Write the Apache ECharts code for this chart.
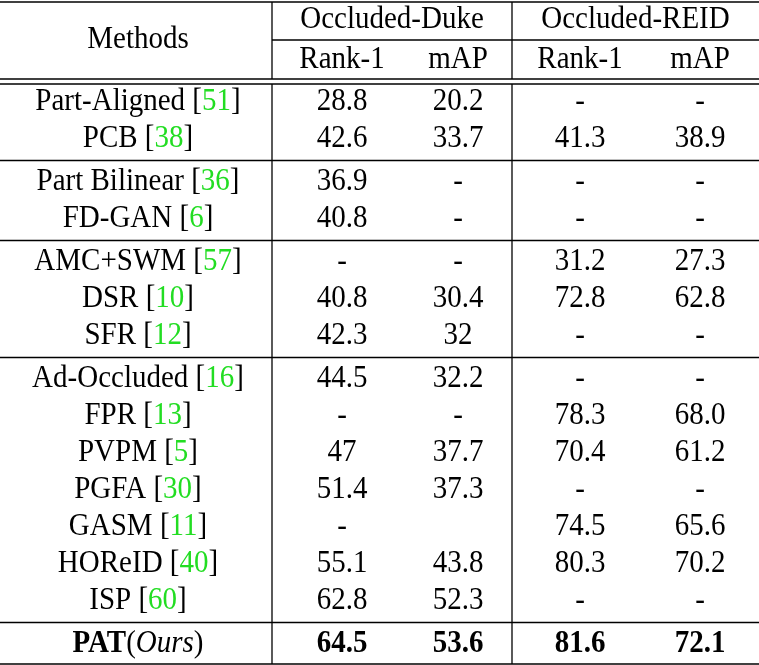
<!DOCTYPE html>
<html>
<head>
<meta charset="utf-8">
<script src="https://cdn.jsdelivr.net/npm/echarts@6/dist/echarts.min.js"></script>
<style>
  html, body { margin: 0; padding: 0; background: #fff; }
  #chart { width: 759px; height: 665px; }
</style>
</head>
<body>
<div id="chart"></div>
<script>
const methods = ['Part-Aligned', 'PCB', 'Part Bilinear', 'FD-GAN', 'AMC+SWM', 'DSR', 'SFR',
    'Ad-Occluded', 'FPR', 'PVPM', 'PGFA', 'GASM', 'HOReID', 'ISP', 'PAT'];
const refs = ['51', '38', '36', '6', '57', '10', '12', '16', '13', '5', '30', '11', '40', '60', ''];
const dukeRank1 = ['28.8', '42.6', '36.9', '40.8', '-', '40.8', '42.3', '44.5', '-', '47', '51.4', '-', '55.1', '62.8', '64.5'];
const dukeMAP = ['20.2', '33.7', '-', '-', '-', '30.4', '32', '32.2', '-', '37.7', '37.3', '', '43.8', '52.3', '53.6'];
const reidRank1 = ['-', '41.3', '-', '-', '31.2', '72.8', '-', '-', '78.3', '70.4', '-', '74.5', '80.3', '-', '81.6'];
const reidMAP = ['-', '38.9', '-', '-', '27.3', '62.8', '-', '-', '68.0', '61.2', '-', '65.6', '70.2', '-', '72.1'];
const groupEnds = [1, 3, 6, 13]; // separator after these rows

const chart = echarts.init(document.getElementById('chart'));
const font = '"Liberation Serif", "DejaVu Serif", serif';
const fs = 29;
const colX = [138, 342, 458, 580, 700];
const vLines = [272, 512];
const rowPitch = 37, gap = 6, firstRow = 102;

function rowY(i) {
    let g = groupEnds.filter(e => e < i).length;
    return firstRow + i * rowPitch + g * gap;
}

const elements = [];
function text(x, y, str) {
    elements.push({
        type: 'text', x: x, y: y, scaleY: 1.1,
        style: {
            text: str, rich: rich, font: fs + 'px ' + font,
            fill: '#000', align: 'center', verticalAlign: 'middle'
        }
    });
}
function hline(x1, x2, y) {
    elements.push({ type: 'line', shape: { x1: x1, y1: y, x2: x2, y2: y }, style: { stroke: '#000', lineWidth: 1.3 } });
}
function vline(x, y1, y2) {
    elements.push({ type: 'line', shape: { x1: x, y1: y1, x2: x, y2: y2 }, style: { stroke: '#000', lineWidth: 1.3 } });
}

const rich = {
    n: { font: fs + 'px ' + font, fill: '#000' },
    g: { font: fs + 'px ' + font, fill: '#22dd22' },
    b: { font: 'bold ' + fs + 'px ' + font, fill: '#000' },
    i: { font: 'italic ' + fs + 'px ' + font, fill: '#000' }
};

// header
text(colX[0], 40, '{n|Methods}');
text((vLines[0] + vLines[1]) / 2, 20, '{n|Occluded-Duke}');
text((vLines[1] + 759) / 2, 20, '{n|Occluded-REID}');
['Rank-1', 'mAP', 'Rank-1', 'mAP'].forEach((t, k) => text(colX[k + 1], 60, '{n|' + t + '}'));

// rows
methods.forEach((m, i) => {
    const y = rowY(i);
    const last = i === methods.length - 1;
    const label = last ? '{b|PAT}{n|(}{i|Ours}{n|)}' : '{n|' + m + ' [}{g|' + refs[i] + '}{n|]}';
    text(colX[0], y, label);
    [dukeRank1[i], dukeMAP[i], reidRank1[i], reidMAP[i]].forEach((v, k) => {
        text(colX[k + 1], y, last ? '{b|' + v + '}' : '{n|' + v + '}');
    });
});

// rules
hline(0, 759, 2);
hline(vLines[0], 759, 40);
hline(0, 759, 79);
hline(0, 759, 84);
groupEnds.forEach(e => hline(0, 759, (rowY(e) + rowY(e + 1)) / 2));
const bottom = rowY(methods.length - 1) + 20;
hline(0, 759, bottom);
vLines.forEach(x => { vline(x, 2, 79); vline(x, 84, bottom); });

chart.setOption({ backgroundColor: '#fff', graphic: { elements: elements } });
</script>
</body>
</html>
